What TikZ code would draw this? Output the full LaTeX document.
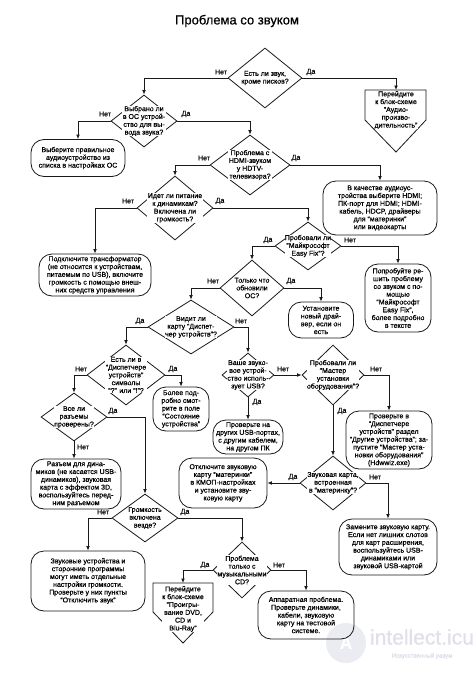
\documentclass[tikz,border=0pt]{standalone}
\usepackage{fontspec}
\setmainfont{Liberation Sans}[FakeBold=0.6]
\usetikzlibrary{shapes.geometric,arrows.meta}
\begin{document}
\begin{tikzpicture}[x=1pt,y=-1pt,
  every node/.style={font=\fontsize{7}{7.8}\selectfont, inner sep=0.5pt, align=center, text=black},
  dia/.style 2 args={diamond, draw=black!90, line width=0.8pt, minimum width=#1, minimum height=#2, inner sep=0pt},
  dt/.style={fill=white, inner sep=0.4pt},
  box/.style 2 args={draw=black!90, line width=0.8pt, rounded corners=13pt, minimum width=#1, minimum height=#2, inner sep=0.5pt},
  arr/.style={draw=black!90, line width=0.8pt, -{Latex[length=4.5pt,width=3.8pt]}},
  lbl/.style={inner sep=0pt},
  shp/.style={draw=black!90, line width=0.8pt}
]
\useasboundingbox (0,0) rectangle (474,677);
\fill[white] (0,0) rectangle (474,677);

% watermark
\fill[blue!20!gray!13] (346,643) circle (20);
\node[font=\fontsize{17}{17}\selectfont\bfseries, text=white] (wma) at (346,643) {A};
\node[font=\fontsize{21}{22}\selectfont, text=blue!20!gray!20] (wm1) at (422,637) {intellect.icu};
\node[font=\fontsize{6}{7}\selectfont, text=blue!20!gray!22] (wm2) at (422,656) {Искусственный разум};

\node[font=\fontsize{13}{15}\selectfont] (title) at (237,21) {Проблема со звуком};

% D1
\node[dia={74}{60}] (d1) at (265,78) {};
\node[dt] (d1t) at (265,78) {Есть ли звук,\\кроме писков?};
\node[lbl] (l1n) at (221,72) {Нет};
\node[lbl] (l1y) at (311,72) {Да};

% R1 off-page
\coordinate (r1top) at (396,90);
\draw[shp] (365,90) -- (426,90) -- (426,120) -- (396,152) -- (365,120) -- cycle;
\node[dt] (r1t) at (396,110) {Перейдите\\к блок-схеме\\“Аудио-\\произво-\\дительность”};

% D2
\node[dia={66}{52}] (d2) at (144,121) {};
\node[dt] (d2t) at (144,121) {Выбрано ли\\в ОС устрой-\\ство для вы-\\вода звука?};
\node[lbl] (l2n) at (105,114) {Нет};
\node[lbl] (l2y) at (186,114) {Да};

\node[box={94}{37}] (b1) at (78,158) {Выберите правильное\\аудиоустройство из\\списка в настройках ОС};

% D3
\node[dia={80}{60}] (d3) at (250,165) {};
\node[dt] (d3t) at (250,165) {Проблема с\\HDMI-звуком\\у HDTV-\\телевизора?};
\node[lbl] (l3n) at (204,158) {Нет};
\node[lbl] (l3y) at (296,158) {Да};

\node[box={114}{54}] (b2) at (380,208) {В качестве аудиоус-\\тройства выберите HDMI;\\ПК-порт для HDMI; HDMI-\\кабель, HDCP, драйверы\\для “материнки”\\или видеокарты};

% D4
\node[dia={76}{64}] (d4) at (175,208) {};
\node[dt] (d4t) at (175,208) {Идет ли питание\\к динамикам?\\Включена ли\\громкость?};
\node[lbl] (l4n) at (128,201) {Нет};
\node[lbl] (l4y) at (220,201) {Да};

\node[box={112}{42}] (b3) at (95,275) {Подключите трансформатор\\(не относится к устройствам,\\питаемым по USB), включите\\громкость с помощью внеш-\\них средств управления};

% D5
\node[dia={66}{48}] (d5) at (308,246) {};
\node[dt] (d5t) at (308,246) {Пробовали ли\\“Майкрософт\\Easy Fix”?};
\node[lbl] (l5y) at (268,240) {Да};
\node[lbl] (l5n) at (350,240) {Нет};

\node[box={66}{68}] (b4) at (398,298) {Попробуйте ре-\\шить проблему\\со звуком с по-\\мощью\\“Майкрософт\\Easy Fix”,\\более подробно\\в тексте};

% D6
\node[dia={64}{56}] (d6) at (252,288) {};
\node[dt] (d6t) at (252,288) {Только что\\обновили\\ОС?};
\node[lbl] (l6n) at (213,281) {Нет};
\node[lbl] (l6y) at (291,281) {Да};

\node[box={65}{36}] (b5) at (321,320) {Установите\\новый драй-\\вер, если он\\есть};

% D7
\node[dia={86}{54}] (d7) at (191,327) {};
\node[dt] (d7t) at (191,327) {Видит ли\\карту “Диспет-\\чер устройств”?};
\node[lbl] (l7y) at (140,321) {Да};
\node[lbl] (l7n) at (241,321) {Нет};

% D8
\node[dia={78}{60}] (d8) at (126,375) {};
\node[dt] (d8t) at (126,375) {Есть ли в\\“Диспетчере\\устройств”\\символы\\“?” или “!”?};
\node[lbl] (l8n) at (81,369) {Нет};
\node[lbl] (l8y) at (173,369) {Да};

\node[box={56}{44}] (b6) at (181,409) {Более под-\\робно смот-\\рите в поле\\“Состояние\\устройства”};

% D9
\node[dia={52}{44}] (d9) at (248,375) {};
\node[dt] (d9t) at (248,375) {Ваше звуко-\\вое устрой-\\ство исполь-\\зует USB?};
\node[lbl] (l9n) at (283,369) {Нет};
\node[lbl] (l9y) at (257,402) {Да};

\node[box={70}{34}] (b7) at (248,437) {Проверьте на\\других USB-портах,\\с другим кабелем,\\на другом ПК};

% D11
\node[dia={62}{60}] (d11) at (333,375) {};
\node[dt] (d11t) at (333,375) {Пробовали ли\\“Мастер\\установки\\оборудования”?};
\node[lbl] (l11n) at (376,369) {Нет};
\node[lbl] (l11y) at (342,411) {Да};

\node[box={86}{58}] (b8) at (389,440) {Проверьте в\\“Диспетчере\\устройств” раздел\\“Другие устройства”; за-\\пустите “Мастер уста-\\новки оборудования”\\(Hdwwiz.exe)};

% D12
\node[dia={66}{54}] (d12) at (333,483) {};
\node[dt] (d12t) at (333,483) {Звуковая карта,\\встроенная\\в “материнку”?};
\node[lbl] (l12y) at (293,477) {Да};
\node[lbl] (l12n) at (375,477) {Нет};

\node[box={88}{50}] (b9) at (223,483) {Отключите звуковую\\карту “материнки”\\в КМОП-настройках\\и установите зву-\\ковую карту};

\node[box={98}{56}] (b10) at (388,547) {Замените звуковую карту.\\Если нет лишних слотов\\для карт расширения,\\воспользуйтесь USB-\\динамиками или\\звуковой USB-картой};

% D10
\node[dia={66}{48}] (d10) at (74,417) {};
\node[dt] (d10t) at (74,417) {Все ли\\разъемы\\проверены?};
\node[lbl] (l10y) at (113,411) {Да};
\node[lbl] (l10n) at (83,447) {Нет};

\node[box={90}{50}] (b11) at (76,484) {Разъем для дина-\\миков (не касается USB-\\динамиков), звуковая\\карта с эффектом 3D,\\воспользуйтесь перед-\\ним разъемом};

% D13
\node[dia={66}{48}] (d13) at (145,518) {};
\node[dt] (d13t) at (145,518) {Громкость\\включена\\везде?};
\node[lbl] (l13n) at (103,512) {Нет};
\node[lbl] (l13y) at (185,512) {Да};

\node[box={114}{60}] (b12) at (88,581) {Звуковые устройства и\\сторонние программы\\могут иметь отдельные\\настройки громкости.\\Проверьте у них пункты\\“Отключить звук”};

% D14
\node[dia={58}{56}] (d14) at (242,570) {};
\node[dt] (d14t) at (242,570) {Проблема\\только с\\музыкальными\\CD?};
\node[lbl] (l14y) at (205,565) {Да};
\node[lbl] (l14n) at (279,565) {Нет};

% R10 off-page
\coordinate (r10top) at (183,583);
\draw[shp] (153,583) -- (213,583) -- (213,612) -- (183,643) -- (153,612) -- cycle;
\node[dt] (r10t) at (183,609) {Перейдите\\к блок-схеме\\“Проигры-\\вание DVD,\\CD и\\Blu-Ray”};

\node[box={96}{48}] (b13) at (306,615) {Аппаратная проблема.\\Проверьте динамики,\\кабели, звуковую\\карту на тестовой\\системе.};

% connectors
\draw[arr] (d1.west) -| (d2.north);
\draw[arr] (d1.east) -| (r1top);
\draw[arr] (d2.west) -| (b1.north);
\draw[arr] (d2.east) -| (d3.north);
\draw[arr] (d3.west) -| (d4.north);
\draw[arr] (d3.east) -| (b2.north);
\draw[arr] (d4.west) -| (b3.north);
\draw[arr] (d4.east) -| (d5.north);
\draw[arr] (d5.west) -| (d6.north);
\draw[arr] (d5.east) -| (b4.north);
\draw[arr] (d6.west) -| (d7.north);
\draw[arr] (d6.east) -| (b5.north);
\draw[arr] (d7.west) -| (d8.north);
\draw[arr] (d7.east) -| (d9.north);
\draw[arr] (d8.west) -| (d10.north);
\draw[arr] (d8.east) -| (b6.north);
\draw[arr] (d9.east) -- (d11.west);
\draw[arr] (d9.south) -- (b7.north);
\draw[arr] (d11.east) -| (b8.north);
\draw[arr] (d11.south) -- (d12.north);
\draw[arr] (d12.west) -- (b9.east);
\draw[arr] (d12.east) -| (b10.north);
\draw[arr] (d10.south) -- (d10.south |- b11.north);
\draw[arr] (d10.east) -| (d13.north);
\draw[arr] (d13.west) -| (b12.north);
\draw[arr] (d13.east) -| (d14.north);
\draw[arr] (d14.west) -| (r10top);
\draw[arr] (d14.east) -| (b13.north);
\end{tikzpicture}
\end{document}
